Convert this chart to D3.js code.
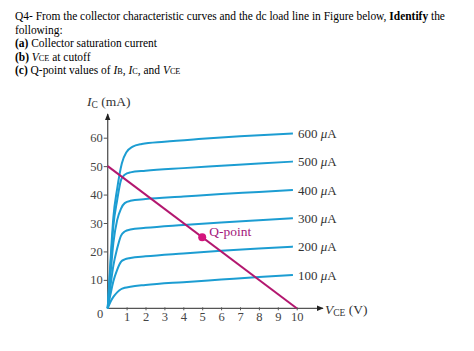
<!DOCTYPE html>
<html lang="en">
<head>
<meta charset="UTF-8">
<title>Collector characteristic curves</title>
<style>
    body { margin: 0; background: #fff; }
    svg { display: block; }
    text { font-family: "Liberation Serif", "Times New Roman", serif; }
    .y_axis text, .x_axis text { font-size: 12.5px; fill: #444; }
    .y_axis line, .x_axis line { stroke: #555; stroke-width: 1; }
</style>
</head>
<body>
<script src="https://cdn.jsdelivr.net/npm/d3@7"></script>
<script>
    // base current labels (uA) for each curve
    const base_currents = [100, 200, 300, 400, 500, 600];

    // points: [VCE (V), IC (mA)]
    const curve_100 = [[0,0],[0.15,2.3],[0.3,4],[0.5,5.6],[0.7,6.7],[0.9,7.2],[1.2,7.6],[2,8.2],[4,9.2],[6,10.1],[8,11],[9.8,11.7]];
    const curve_200 = [[0,0],[0.15,5],[0.3,9.5],[0.5,13.5],[0.7,16.3],[0.9,17.2],[1.2,17.7],[2,18.3],[4,19.3],[6,20.2],[8,21],[9.8,21.7]];
    const curve_300 = [[0,0],[0.15,8],[0.3,15],[0.5,21],[0.7,25.5],[0.9,27],[1.2,27.7],[2,28.3],[4,29.3],[6,30.2],[8,31],[9.8,31.7]];
    const curve_400 = [[0,0],[0.15,12],[0.3,23],[0.5,31],[0.7,35],[0.9,37],[1.2,37.8],[2,38.4],[4,39.3],[6,40.2],[8,40.9],[9.8,41.6]];
    const curve_500 = [[0,0],[0.15,15],[0.3,29],[0.5,38],[0.7,45],[0.9,47],[1.2,47.8],[2,48.4],[4,49.3],[6,50.1],[8,50.9],[9.8,51.6]];
    const curve_600 = [[0,0],[0.15,17],[0.3,32],[0.5,42],[0.75,51],[1,55],[1.3,56.8],[1.8,57.8],[3,58.6],[5,59.6],[7,60.5],[9.8,61.5]];
    const curves = [curve_100, curve_200, curve_300, curve_400, curve_500, curve_600];

    // dc load line end points and Q-point
    const load_line = [[0, 50], [10, 0]];
    const q_point = [5, 25];

    const x_ticks = [1, 2, 3, 4, 5, 6, 7, 8, 9, 10];
    const y_ticks = [10, 20, 30, 40, 50, 60];

    const svg_w = 474;
    const svg_h = 351;

    const curve_color = '#1c9dd2';
    const load_color = '#b3176f';
    const axis_color = '#555';

    const x_scale = d3.scaleLinear([0, 10], [107.7, 296.7]);
    const y_scale = d3.scaleLinear([0, 60], [308.3, 137.7]);

    const svg = d3.select('body').append('svg')
        .attr('width', svg_w)
        .attr('height', svg_h);

    // question text
    const lines = svg.append('text')
        .attr('x', 15)
        .attr('font-size', 12.6)
        .attr('fill', '#000');

    const l1 = lines.append('tspan').attr('x', 15).attr('y', 20);
    l1.append('tspan').text('Q4- From the collector characteristic curves and the dc load line in Figure below, ');
    l1.append('tspan').attr('font-weight', 'bold').text('Identify');
    l1.append('tspan').text(' the');

    lines.append('tspan').attr('x', 15).attr('y', 33.5).text('following:');

    const l3 = lines.append('tspan').attr('x', 15).attr('y', 47);
    l3.append('tspan').attr('font-weight', 'bold').text('(a)');
    l3.append('tspan').text(' Collector saturation current');

    const l4 = lines.append('tspan').attr('x', 15).attr('y', 60.5);
    l4.append('tspan').attr('font-weight', 'bold').text('(b)');
    l4.append('tspan').text(' ');
    l4.append('tspan').attr('font-style', 'italic').text('V');
    l4.append('tspan').attr('font-size', '0.72em').text('CE');
    l4.append('tspan').text(' at cutoff');

    const l5 = lines.append('tspan').attr('x', 15).attr('y', 74);
    l5.append('tspan').attr('font-weight', 'bold').text('(c)');
    l5.append('tspan').text(' Q-point values of ');
    l5.append('tspan').attr('font-style', 'italic').text('I');
    l5.append('tspan').attr('font-size', '0.72em').text('B');
    l5.append('tspan').text(', ');
    l5.append('tspan').attr('font-style', 'italic').text('I');
    l5.append('tspan').attr('font-size', '0.72em').text('C');
    l5.append('tspan').text(', and ');
    l5.append('tspan').attr('font-style', 'italic').text('V');
    l5.append('tspan').attr('font-size', '0.72em').text('CE');

    // shrink the question font so the first line fits like the original
    const first_w = l1.node().getComputedTextLength();
    lines.attr('font-size', 12.6 * 430 / first_w);

    // arrow marker
    svg.append('defs').append('marker')
        .attr('id', 'arrow')
        .attr('viewBox', '0 0 10 10')
        .attr('refX', 9).attr('refY', 5)
        .attr('markerWidth', 7).attr('markerHeight', 7)
        .attr('markerUnits', 'userSpaceOnUse')
        .attr('orient', 'auto')
        .append('path')
        .attr('d', 'M0,1 L10,5 L0,9 Z')
        .attr('fill', '#222');

    // axis lines with arrows
    svg.append('line')
        .attr('x1', x_scale(0)).attr('y1', y_scale(0))
        .attr('x2', x_scale(0)).attr('y2', 114)
        .attr('stroke', axis_color).attr('stroke-width', 1.3)
        .attr('marker-end', 'url(#arrow)');

    svg.append('line')
        .attr('x1', x_scale(0)).attr('y1', y_scale(0))
        .attr('x2', 323).attr('y2', y_scale(0))
        .attr('stroke', axis_color).attr('stroke-width', 1.3)
        .attr('marker-end', 'url(#arrow)');

    const y_axis = d3.axisLeft(y_scale).tickValues(y_ticks).tickSize(4).tickPadding(1);
    svg.append('g').call(y_axis)
        .attr('class', 'y_axis')
        .attr('transform', `translate(${x_scale(0)}, 0)`)
        .call(g => g.select('.domain').remove());

    const x_axis = d3.axisBottom(x_scale).tickValues(x_ticks).tickSize(3).tickPadding(2);
    svg.append('g').call(x_axis)
        .attr('class', 'x_axis')
        .attr('transform', `translate(0, ${y_scale(0) - 1})`)
        .call(g => g.select('.domain').remove());

    svg.append('text')
        .attr('x', 100).attr('y', 318)
        .attr('text-anchor', 'middle')
        .attr('font-size', 12.5).attr('fill', '#444')
        .text('0');

    // axis titles
    const y_title = svg.append('text').attr('x', 87).attr('y', 106).attr('font-size', 13.5).attr('fill', '#333');
    y_title.append('tspan').attr('font-style', 'italic').text('I');
    y_title.append('tspan').attr('font-size', 9.5).attr('dy', 2).text('C');
    y_title.append('tspan').attr('dy', -2).text(' (mA)');

    const x_title = svg.append('text').attr('x', 325).attr('y', 314).attr('font-size', 13.5).attr('fill', '#333');
    x_title.append('tspan').attr('font-style', 'italic').text('V');
    x_title.append('tspan').attr('font-size', 9.5).attr('dy', 2).text('CE');
    x_title.append('tspan').attr('dy', -2).text(' (V)');

    // characteristic curves
    const line_gen = d3.line()
        .x(d => x_scale(d[0]))
        .y(d => y_scale(d[1]))
        .curve(d3.curveMonotoneX);

    svg.selectAll('path.ic_curve')
        .data(curves)
        .enter()
        .append('path')
        .attr('class', 'ic_curve')
        .attr('d', line_gen)
        .attr('fill', 'none')
        .attr('stroke', curve_color)
        .attr('stroke-width', 2);

    // curve labels
    const labels = svg.selectAll('text.ib_label')
        .data(curves)
        .enter()
        .append('text')
        .attr('class', 'ib_label')
        .attr('x', d => x_scale(d[d.length - 1][0]) + 5)
        .attr('y', d => y_scale(d[d.length - 1][1]) + 4.5)
        .attr('font-size', 13)
        .attr('fill', '#333');
    labels.append('tspan').text((d, i) => base_currents[i] + ' ');
    labels.append('tspan').attr('font-style', 'italic').text('\u03bc');
    labels.append('tspan').text('A');

    // dc load line
    svg.append('path')
        .attr('d', d3.line().x(d => x_scale(d[0])).y(d => y_scale(d[1]))(load_line))
        .attr('fill', 'none')
        .attr('stroke', load_color)
        .attr('stroke-width', 2);

    svg.append('circle')
        .attr('cx', x_scale(q_point[0]))
        .attr('cy', y_scale(q_point[1]))
        .attr('r', 4)
        .attr('fill', '#d4157d');

    svg.append('text')
        .attr('x', x_scale(q_point[0]) + 7)
        .attr('y', y_scale(q_point[1]) - 1)
        .attr('font-size', 13.5)
        .attr('fill', '#a3177c')
        .text('Q-point');
</script>
</body>
</html>
